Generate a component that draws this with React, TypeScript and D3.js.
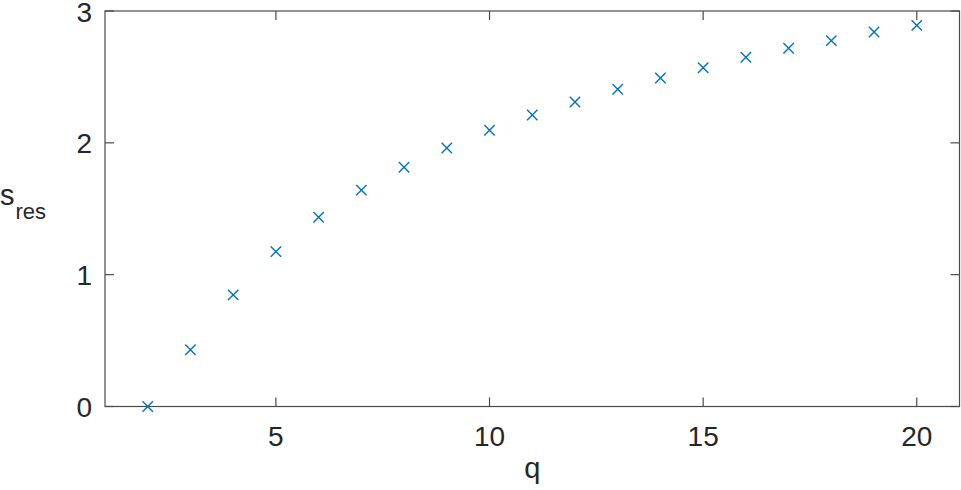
import { useEffect, useRef } from "react";
import * as d3 from "d3";

const qValues = [2, 3, 4, 5, 6, 7, 8, 9, 10, 11, 12, 13, 14, 15, 16, 17, 18, 19, 20];
const sRes = [
  0, 0.43, 0.847, 1.175, 1.436, 1.641, 1.815, 1.961, 2.095, 2.211, 2.31, 2.406,
  2.492, 2.57, 2.649, 2.717, 2.775, 2.841, 2.891,
];
const xTicks = [5, 10, 15, 20];
const yTicks = [0, 1, 2, 3];

const W = 961;
const H = 490;
const margin = { left: 105, right: 1.5, top: 11, bottom: 83.5 };
const axisColor = "#4a4a4a";
const textColor = "#262626";
const markColor = "#0072BD";
const font = "'Liberation Sans', Arial, Helvetica, sans-serif";

export default function App() {
  const svgRef = useRef<SVGSVGElement>(null);

  useEffect(() => {
    if (!svgRef.current) return;
    const svg = d3.select(svgRef.current);
    svg.selectAll("*").remove();

    const x = d3.scaleLinear().domain([1, 21]).range([margin.left, W - margin.right]);
    const y = d3.scaleLinear().domain([0, 3]).range([H - margin.bottom, margin.top]);
    const tick = 9;

    const g = svg.append("g");

    // box
    g.append("rect")
      .attr("x", x(1))
      .attr("y", y(3))
      .attr("width", x(21) - x(1))
      .attr("height", y(0) - y(3))
      .attr("fill", "none")
      .attr("stroke", axisColor)
      .attr("stroke-width", 1.2);

    // x ticks bottom + top
    xTicks.forEach((t) => {
      g.append("line")
        .attr("x1", x(t)).attr("x2", x(t))
        .attr("y1", y(0)).attr("y2", y(0) - tick)
        .attr("stroke", axisColor).attr("stroke-width", 1.2);
      g.append("line")
        .attr("x1", x(t)).attr("x2", x(t))
        .attr("y1", y(3)).attr("y2", y(3) + tick)
        .attr("stroke", axisColor).attr("stroke-width", 1.2);
      g.append("text")
        .attr("x", x(t))
        .attr("y", y(0) + 39.5)
        .attr("text-anchor", "middle")
        .attr("font-family", font)
        .attr("font-size", 28)
        .attr("fill", textColor)
        .text(t);
    });

    // y ticks left + right
    yTicks.forEach((t) => {
      g.append("line")
        .attr("x1", x(1)).attr("x2", x(1) + tick)
        .attr("y1", y(t)).attr("y2", y(t))
        .attr("stroke", axisColor).attr("stroke-width", 1.2);
      g.append("line")
        .attr("x1", x(21)).attr("x2", x(21) - tick)
        .attr("y1", y(t)).attr("y2", y(t))
        .attr("stroke", axisColor).attr("stroke-width", 1.2);
      g.append("text")
        .attr("x", x(1) - 13)
        .attr("y", Math.max(y(t) + 10, 22))
        .attr("text-anchor", "end")
        .attr("font-family", font)
        .attr("font-size", 28)
        .attr("fill", textColor)
        .text(t);
    });

    // markers
    const half = 5.2;
    g.append("g")
      .selectAll("path")
      .data(qValues.map((q, i) => [q, sRes[i]] as [number, number]))
      .join("path")
      .attr("d", ([q, s]) => {
        const cx = x(q);
        const cy = y(s);
        return `M${cx - half},${cy - half}L${cx + half},${cy + half}M${cx - half},${cy + half}L${cx + half},${cy - half}`;
      })
      .attr("stroke", markColor)
      .attr("stroke-width", 1.4)
      .attr("fill", "none");

    // axis labels
    g.append("text")
      .attr("x", (x(1) + x(21)) / 2)
      .attr("y", 478)
      .attr("text-anchor", "middle")
      .attr("font-family", font)
      .attr("font-size", 29)
      .attr("fill", textColor)
      .text("q");

    const yl = g.append("text")
      .attr("x", 0)
      .attr("y", 205)
      .attr("font-family", font)
      .attr("font-size", 29)
      .attr("fill", textColor);
    yl.append("tspan").text("s");
    yl.append("tspan")
      .attr("font-size", 22)
      .attr("dy", 14)
      .attr("dx", 1)
      .text("res");
  }, []);

  return (
    <div style={{ position: "fixed", left: 0, top: 0 }}>
      <svg ref={svgRef} width={W} height={H} style={{ display: "block", background: "#fff" }} />
    </div>
  );
}
